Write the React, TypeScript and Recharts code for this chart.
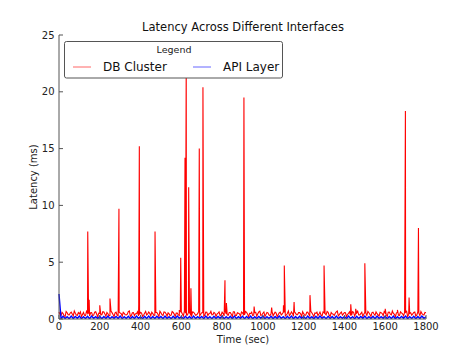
import React from "react";
import { LineChart, Line, XAxis, YAxis } from "recharts";

// DB cluster samples every 10 s (0..1800) plus the in-between samples (5..1795)
const SAMPLE_STEP = 10;

const dbClusterBase = [
  0.62, 0.31, 0.48, 0.22, 0.55, 0.36, 0.6, 0.27, 0.5, 0.33,
  0.45, 0.21, 0.58, 0.3, 0.52, 0.26, 0.57, 0.34, 0.64, 0.2,
  0.5, 0.37, 0.61, 0.24, 0.46, 0.32, 0.56, 0.21, 0.6, 0.29,
  0.53, 0.25, 0.49, 0.35, 0.66, 0.23, 0.55, 0.3, 0.47, 0.27,
  0.59, 0.22, 0.51, 0.36, 0.62, 0.28, 0.48, 0.33, 0.57, 0.2,
  0.54, 0.31, 0.6, 0.25, 0.45, 0.34, 0.58, 0.22, 0.52, 0.3,
  0.63, 0.26, 0.5, 0.35, 0.56, 0.21, 0.6, 0.32, 0.47, 0.28,
  0.55, 0.24, 0.61, 0.3, 0.49, 0.37, 0.58, 0.23, 0.52, 0.29,
  0.6, 0.27, 0.46, 0.33, 0.57, 0.22, 0.64, 0.31, 0.5, 0.25,
  0.53, 0.36, 0.59, 0.2, 0.48, 0.3, 0.56, 0.26, 0.62, 0.32,
  0.51, 0.23, 0.57, 0.34, 0.45, 0.28, 0.6, 0.21, 0.54, 0.35,
  0.58, 0.26, 0.49, 0.31, 0.63, 0.24, 0.52, 0.37, 0.56, 0.22,
  0.47, 0.33, 0.6, 0.27, 0.55, 0.2, 0.5, 0.3, 0.61, 0.25,
  0.54, 0.36, 0.58, 0.23, 0.46, 0.32, 0.62, 0.28, 0.51, 0.34,
  0.57, 0.21, 0.5, 0.3, 0.65, 0.26, 0.53, 0.35, 0.48, 0.24,
  0.59, 0.31, 0.55, 0.22, 0.6, 0.33, 0.47, 0.27, 0.56, 0.3,
  0.52, 0.25, 0.61, 0.36, 0.49, 0.2, 0.58, 0.32, 0.54, 0.28,
  0.6, 0.23, 0.5, 0.34, 0.57, 0.26, 0.63, 0.3, 0.48, 0.35,
  0.55,
];

const dbClusterMid = [
  0.41, 0.58, 0.29, 0.66, 0.38, 0.52, 0.44, 0.7, 0.35, 0.57,
  0.62, 0.4, 0.33, 0.68, 0.47, 0.55, 0.3, 0.6, 0.42, 0.51,
  0.36, 0.64, 0.45, 0.58, 0.28, 0.7, 0.4, 0.54, 0.34, 0.61,
  0.48, 0.59, 0.37, 0.43, 0.72, 0.31, 0.56, 0.46, 0.63, 0.39,
  0.53, 0.35, 0.67, 0.44, 0.5, 0.6, 0.32, 0.57, 0.41, 0.69,
  0.38, 0.62, 0.47, 0.55, 0.3, 0.66, 0.43, 0.52, 0.36, 0.6,
  0.45, 0.71, 0.34, 0.58, 0.4, 0.63, 0.49, 0.37, 0.65, 0.42,
  0.56, 0.33, 0.6, 0.46, 0.68, 0.39, 0.51, 0.44, 0.62, 0.35,
  0.48, 0.7, 0.37, 0.57, 0.41, 0.64, 0.3, 0.55, 0.45, 0.61,
  0.39, 0.66, 0.43, 0.5, 0.6, 0.34, 0.58, 0.47, 0.69, 0.36,
  0.62, 0.4, 0.54, 0.31, 0.67, 0.45, 0.52, 0.38, 0.6, 0.44,
  0.57, 0.35, 0.7, 0.42, 0.49, 0.63, 0.37, 0.56, 0.46, 0.65,
  0.33, 0.59, 0.41, 0.68, 0.39, 0.53, 0.6, 0.44, 0.36, 0.62,
  0.48, 0.66, 0.34, 0.57, 0.43, 0.51, 0.7, 0.38, 0.61, 0.45,
  0.55, 0.4, 0.64, 0.32, 0.58, 0.47, 0.69, 0.36, 0.6, 0.42,
  0.5, 0.67, 0.39, 0.56, 0.44, 0.62, 0.35, 0.59, 0.48, 0.65,
  0.37, 0.6, 0.43, 0.7, 0.41, 0.54, 0.33, 0.63, 0.46, 0.57,
  0.68, 0.38, 0.55, 0.45, 0.61, 0.36, 0.52, 0.66, 0.4, 0.58,
];

// API layer samples every 10 s (0..1800)
const apiLayerBase = [
  2.2, 0.03, 0.24, 0.05, 0.21, 0.02, 0.26, 0.04, 0.22, 0.06,
  0.25, 0.03, 0.2, 0.05, 0.23, 0.02, 0.26, 0.06, 0.21, 0.04,
  0.24, 0.02, 0.22, 0.05, 0.25, 0.03, 0.2, 0.06, 0.23, 0.04,
  0.26, 0.03, 0.21, 0.05, 0.24, 0.02, 0.22, 0.04, 0.25, 0.06,
  0.2, 0.03, 0.23, 0.05, 0.26, 0.02, 0.21, 0.04, 0.24, 0.06,
  0.22, 0.03, 0.25, 0.05, 0.2, 0.02, 0.23, 0.04, 0.26, 0.06,
  0.21, 0.03, 0.24, 0.05, 0.22, 0.02, 0.25, 0.04, 0.2, 0.06,
  0.23, 0.03, 0.26, 0.05, 0.21, 0.02, 0.24, 0.04, 0.22, 0.06,
  0.25, 0.03, 0.2, 0.05, 0.23, 0.02, 0.26, 0.04, 0.21, 0.06,
  0.24, 0.03, 0.22, 0.05, 0.25, 0.02, 0.2, 0.04, 0.23, 0.06,
  0.26, 0.03, 0.21, 0.05, 0.24, 0.02, 0.22, 0.04, 0.25, 0.06,
  0.2, 0.03, 0.23, 0.05, 0.26, 0.02, 0.21, 0.04, 0.24, 0.06,
  0.22, 0.03, 0.25, 0.05, 0.2, 0.02, 0.23, 0.04, 0.26, 0.06,
  0.21, 0.03, 0.24, 0.05, 0.22, 0.02, 0.25, 0.04, 0.2, 0.06,
  0.23, 0.03, 0.26, 0.05, 0.21, 0.02, 0.24, 0.04, 0.22, 0.06,
  0.25, 0.03, 0.2, 0.05, 0.23, 0.02, 0.26, 0.04, 0.21, 0.06,
  0.24, 0.03, 0.22, 0.05, 0.25, 0.02, 0.2, 0.04, 0.23, 0.06,
  0.26, 0.03, 0.21, 0.05, 0.24, 0.02, 0.22, 0.04, 0.25, 0.06,
  0.2,
];

// latency spikes of the DB cluster (sec, ms)
const spikeTimes = [
  141, 148, 200, 250, 294, 391, 394, 471, 590, 597, 618, 624, 636, 647, 688,
  706, 814, 821, 907, 957, 1043, 1101, 1105, 1153, 1231, 1300, 1431, 1455,
  1500, 1600, 1660, 1699, 1717, 1763,
];
const spikeValues = [
  7.7, 1.7, 1.2, 1.8, 9.7, 1.3, 15.2, 7.7, 0.8, 5.4, 14.2, 22.5, 11.6, 2.7,
  15.0, 20.4, 3.4, 1.4, 19.5, 1.1, 1.0, 1.2, 4.7, 1.5, 2.1, 4.7, 1.3, 0.9,
  4.9, 0.9, 0.8, 18.3, 1.9, 8.0,
];

const xTicks = [0, 200, 400, 600, 800, 1000, 1200, 1400, 1600, 1800];
const yTicks = [0, 5, 10, 15, 20, 25];

const dbData = [
  ...dbClusterBase.map((v, i) => ({ t: i * SAMPLE_STEP, v })),
  ...dbClusterMid.map((v, i) => ({ t: i * SAMPLE_STEP + SAMPLE_STEP / 2, v })),
  ...spikeTimes.map((t, i) => ({ t, v: spikeValues[i] })),
].sort((a, b) => a.t - b.t);

const apiData = apiLayerBase.map((v, i) => ({ t: i * SAMPLE_STEP, v }));

const FONT = "'DejaVu Sans', sans-serif";
const AXIS = "#555";

const BottomTick = ({ x, y, payload }: any) => (
  <g>
    <line x1={x} y1={y} x2={x} y2={y - 4} stroke={AXIS} />
    <text x={x} y={y + 11} textAnchor="middle" fontSize={10} fontFamily={FONT} fill="#222">
      {payload.value}
    </text>
  </g>
);
const TopTick = ({ x, y }: any) => <line x1={x} y1={y} x2={x} y2={y + 4} stroke={AXIS} />;
const LeftTick = ({ x, y, payload }: any) => (
  <g>
    <line x1={x} y1={y} x2={x + 4} y2={y} stroke={AXIS} />
    <text x={x - 4.5} y={y + 3.6} textAnchor="end" fontSize={10} fontFamily={FONT} fill="#222">
      {payload.value}
    </text>
  </g>
);
const RightTick = ({ x, y }: any) => <line x1={x} y1={y} x2={x - 4} y2={y} stroke={AXIS} />;

export default function App() {
  return (
    <div style={{ position: "absolute", left: 0, top: 0, width: 474, height: 355, background: "#fff" }}>
      <LineChart width={474} height={355} margin={{ top: 35, right: 48, left: 9, bottom: 0 }}>
        <XAxis
          xAxisId="b"
          dataKey="t"
          type="number"
          domain={[0, 1800]}
          ticks={xTicks}
          interval={0}
          height={36}
          tickSize={0}
          tickMargin={0}
          stroke={AXIS}
          tick={<BottomTick />}
        />
        <XAxis
          xAxisId="t"
          orientation="top"
          dataKey="t"
          type="number"
          domain={[0, 1800]}
          allowDataOverflow
          ticks={xTicks}
          interval={0}
          height={0}
          tickSize={0}
          tickMargin={0}
          stroke={AXIS}
          tick={<TopTick />}
        />
        <YAxis
          yAxisId="l"
          type="number"
          domain={[0, 25]}
          allowDataOverflow
          ticks={yTicks}
          interval={0}
          width={50}
          tickSize={0}
          tickMargin={0}
          stroke={AXIS}
          tick={<LeftTick />}
        />
        <YAxis
          yAxisId="r"
          orientation="right"
          type="number"
          domain={[0, 25]}
          allowDataOverflow
          ticks={yTicks}
          interval={0}
          width={0}
          tickSize={0}
          tickMargin={0}
          stroke={AXIS}
          tick={<RightTick />}
        />
        <Line
          xAxisId="b"
          yAxisId="l"
          data={dbData}
          dataKey="v"
          name="DB Cluster"
          type="linear"
          stroke="#ff0000"
          strokeWidth={1.1}
          dot={false}
          isAnimationActive={false}
        />
        <Line
          xAxisId="b"
          yAxisId="l"
          data={apiData}
          dataKey="v"
          name="API Layer"
          type="linear"
          stroke="#0000ff"
          strokeWidth={1.4}
          dot={false}
          isAnimationActive={false}
        />
      </LineChart>
      <svg
        width={474}
        height={355}
        style={{ position: "absolute", left: 0, top: 0, pointerEvents: "none" }}
        fontFamily={FONT}
      >
        <text x={243} y={31} textAnchor="middle" fontSize={11.5} fill="#111">
          Latency Across Different Interfaces
        </text>
        <text x={243} y={343} textAnchor="middle" fontSize={10} fill="#222">
          Time (sec)
        </text>
        <text x={37} y={177} textAnchor="middle" fontSize={10} fill="#222" transform="rotate(-90 37 177)">
          Latency (ms)
        </text>
        <rect x={64.5} y={41.5} width={218} height={36.5} rx={2} fill="#fff" stroke="#555" />
        <text x={174} y={53} textAnchor="middle" fontSize={9.5} fill="#222">
          Legend
        </text>
        <line x1={73} y1={67} x2={91} y2={67} stroke="#ff0000" strokeOpacity={0.6} />
        <text x={103} y={71.3} fontSize={12} fill="#111">
          DB Cluster
        </text>
        <line x1={193} y1={67} x2={211} y2={67} stroke="#0000ff" strokeOpacity={0.6} />
        <text x={223} y={71.3} fontSize={12} fill="#111">
          API Layer
        </text>
      </svg>
    </div>
  );
}
